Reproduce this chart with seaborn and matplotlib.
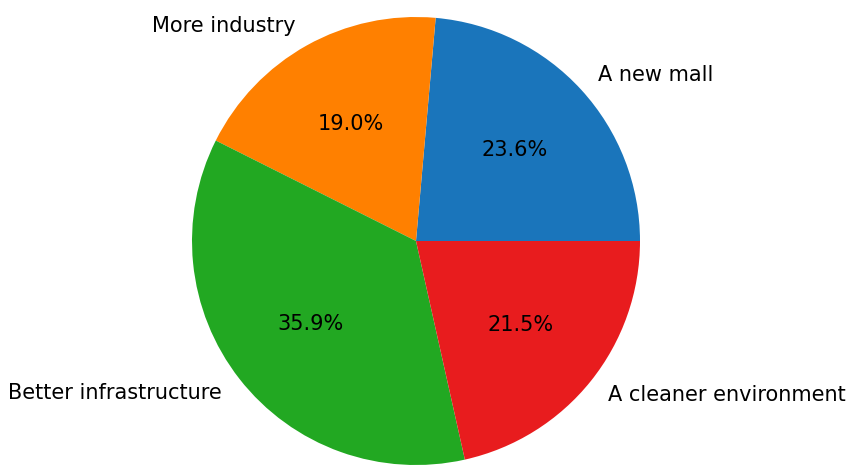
import seaborn as sns
from matplotlib import pyplot as plt

labels = ['A new mall', 'More industry', 'Better infrastructure', 'A cleaner environment']
shares = [23.6, 19.0, 35.9, 21.5]
colors = ['#1a75bb', '#ff8000', '#22a822', '#e81c1e']

sns.set_style('white')
plt.rcParams['font.family'] = ['DejaVu Sans']

fig = plt.figure(figsize=(8.61, 4.71), dpi=100)
# pie radius 1 -> 224 px, centre at (416, 241) px
ax = fig.add_axes([136 / 861, -50 / 471, 560 / 861, 560 / 471])
ax.pie(shares, labels=labels, colors=colors, autopct='%1.1f%%',
       textprops={'fontsize': 15, 'color': 'black'},
       wedgeprops={'linewidth': 0})
ax.set_xlim(-1.25, 1.25)
ax.set_ylim(-1.25, 1.25)
ax.set_aspect('equal')

fig.savefig('out.png', dpi=100)
